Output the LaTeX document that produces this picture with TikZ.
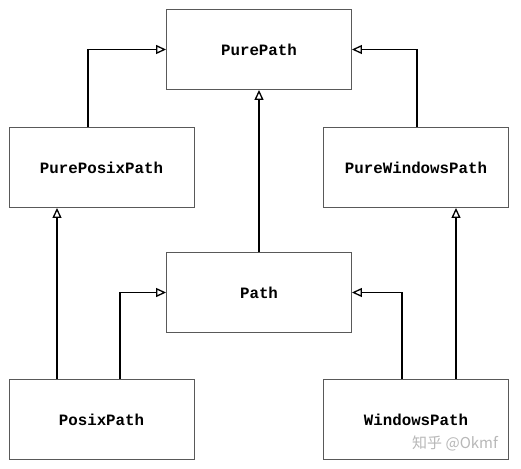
\documentclass[tikz,border=0pt]{standalone}
\usepackage{fontspec}
\setmonofont{Liberation Mono}
\newfontfamily\cjk{Noto Sans CJK SC}
\usetikzlibrary{arrows.meta}
\begin{document}
\begin{tikzpicture}[x=1pt,y=-1pt,
  cls/.style={draw=black!65,line width=0.9pt,minimum width=185pt,minimum height=80pt,inner sep=0pt,
    font=\fontsize{15.8}{18}\selectfont\ttfamily\bfseries},
  inh/.style={draw=black,line width=1.4pt,-{Triangle[open,length=10pt,width=9pt,line width=1.3pt]}}]
\useasboundingbox (0,0) rectangle (521,468);
\fill[white] (0,0) rectangle (521,468);
\node[cls] (pp)  at (259,49.5)  {PurePath};
\node[cls] (ppx) at (101.5,167.5) {PurePosixPath};
\node[cls] (pw)  at (416,167.5) {PureWindowsPath};
\node[cls] (p)   at (259,292.5) {Path};
\node[cls] (px)  at (101.5,419.5) {PosixPath};
\node[cls] (w)   at (416,419.5) {WindowsPath};
\draw[inh] (ppx.north -| 88,0) |- (pp.west);
\draw[inh] (pw.north -| 417,0) |- (pp.east);
\draw[inh] (p.north) -- (pp.south);
\draw[inh] (px.north -| 57,0) -- (ppx.south -| 57,0);
\draw[inh] (px.north -| 120,0) |- (p.west);
\draw[inh] (w.north -| 402,0) |- (p.east);
\draw[inh] (w.north -| 456,0) -- (pw.south -| 456,0);
\node[anchor=west,text=black!28,font=\cjk\fontsize{15}{17}\selectfont,inner sep=0pt] (wm) at (412,443) {知乎 @Okmf};
\end{tikzpicture}
\end{document}
